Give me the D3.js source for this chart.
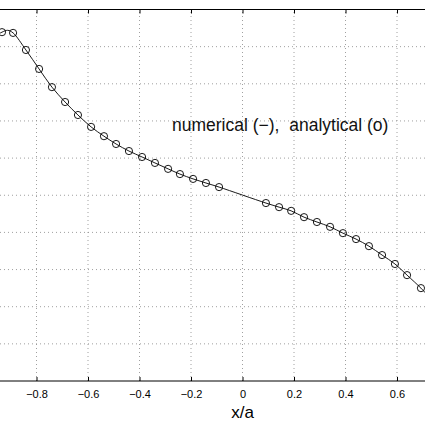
<!DOCTYPE html>
<html><head><meta charset="utf-8">
<script src="https://cdn.jsdelivr.net/npm/d3@7"></script>
<style>body{margin:0;background:#fff}svg{display:block}</style>
</head><body><svg id="c" width="425" height="425"></svg>
<script>
const xs = [-0.934,-0.891,-0.841,-0.790,-0.740,-0.689,-0.639,-0.588,-0.538,-0.491,-0.441,-0.390,-0.340,-0.289,-0.243,-0.192,-0.142,-0.091,0.091,0.142,0.189,0.239,0.289,0.340,0.390,0.441,0.491,0.542,0.592,0.639,0.693];
const ys = [9.39,9.37,8.91,8.40,7.91,7.51,7.16,6.84,6.59,6.38,6.19,6.03,5.87,5.71,5.57,5.44,5.33,5.22,4.79,4.68,4.58,4.41,4.28,4.15,3.98,3.82,3.63,3.39,3.15,2.85,2.50];
const lineX = [-0.95,-0.934,-0.912,-0.891,-0.841,-0.790,-0.740,-0.689,-0.639,-0.588,-0.538,-0.491,-0.441,-0.390,-0.340,-0.289,-0.243,-0.192,-0.142,-0.091,0.091,0.142,0.189,0.239,0.289,0.340,0.390,0.441,0.491,0.542,0.592,0.639,0.693,0.72];
const lineY = [9.33,9.39,9.44,9.37,8.91,8.40,7.91,7.51,7.16,6.84,6.59,6.38,6.19,6.03,5.87,5.71,5.57,5.44,5.33,5.22,4.79,4.68,4.58,4.41,4.28,4.15,3.98,3.82,3.63,3.39,3.15,2.85,2.50,2.30];
const xTicks = [-0.8,-0.6,-0.4,-0.2,0,0.2,0.4,0.6];
const yTicks = [0,1,2,3,4,5,6,7,8,9,10];

const svg = d3.select("#c");
const x = d3.scaleLinear().domain([0,1]).range([242.5,500]);
const y = d3.scaleLinear().domain([0,10]).range([381,9.5]);
const g = svg.append("g");
g.selectAll(".vg").data(xTicks).join("line").attr("x1",d=>x(d)).attr("x2",d=>x(d)).attr("y1",y(0)).attr("y2",y(10))
 .attr("stroke","#888").attr("stroke-width",0.8).attr("stroke-dasharray","1,3");
g.selectAll(".hg").data(yTicks.slice(1,-1)).join("line").attr("x1",0).attr("x2",425).attr("y1",d=>y(d)).attr("y2",d=>y(d))
 .attr("stroke","#888").attr("stroke-width",0.8).attr("stroke-dasharray","1,3");
[0,10].forEach(v=>g.append("line").attr("x1",0).attr("x2",425).attr("y1",y(v)).attr("y2",y(v)).attr("stroke","#000").attr("stroke-width",1));
const bx = d3.axisBottom(x).tickValues(xTicks).tickSize(-4).tickPadding(9).tickFormat(d=>d===0?"0":d3.format(".1f")(d).replace("-","\u2212"));
const ax = g.append("g").attr("transform",`translate(0,${y(0)})`).call(bx);
ax.select(".domain").remove();
ax.attr("font-size",null);
ax.selectAll("text").attr("font-family","Liberation Sans, Arial, sans-serif").attr("font-size",11).attr("fill","#000");
const tx = d3.axisTop(x).tickValues(xTicks).tickSize(-4).tickFormat("");
const at = g.append("g").attr("transform",`translate(0,${y(10)})`).call(tx);
at.select(".domain").remove();
g.append("path").datum(lineX.map((v,i)=>[v,lineY[i]])).attr("fill","none").attr("stroke","#000").attr("stroke-width",0.9)
 .attr("d",d3.line().x(d=>x(d[0])).y(d=>y(d[1])).curve(d3.curveCatmullRom));
g.selectAll(".pt").data(xs.map((v,i)=>[v,ys[i]])).join("circle").attr("cx",d=>x(d[0])).attr("cy",d=>y(d[1])).attr("r",3.6)
 .attr("fill","none").attr("stroke","#000").attr("stroke-width",0.9);
g.append("text").attr("x",172).attr("y",131).style("white-space","pre").attr("font-family","Liberation Sans, Arial, sans-serif").attr("font-size",17.5).attr("fill","#111").text("numerical (\u2212),  analytical (o)");
g.append("text").attr("x",x(0)).attr("y",418).attr("text-anchor","middle").attr("font-family","Liberation Sans, Arial, sans-serif").attr("font-size",17).text("x/a");
</script></body></html>
